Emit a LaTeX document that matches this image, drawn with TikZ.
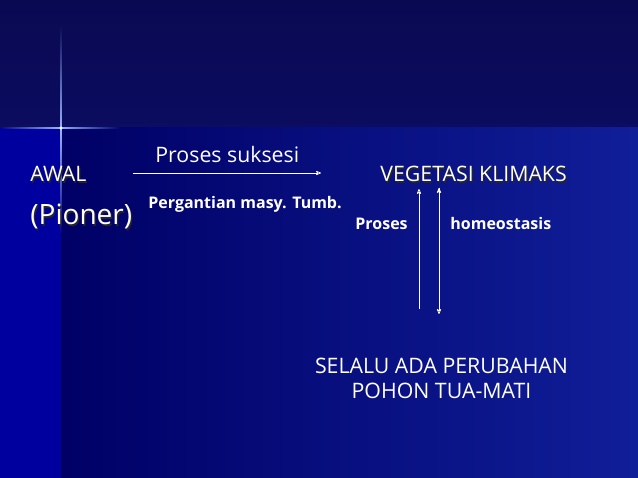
\documentclass[tikz,border=0pt]{standalone}
\usepackage{fontspec}
\setmainfont{Open Sans}
\usepackage{xcolor}
\usepackage{tikz}
\usetikzlibrary{arrows,fadings}

\definecolor{topnavy}{RGB}{9,9,82}
\definecolor{topnavylow}{RGB}{12,12,96}
\definecolor{stripblue}{RGB}{0,0,158}
\definecolor{deepnavy}{RGB}{0,0,102}
\definecolor{brightblue}{RGB}{16,30,152}
\definecolor{starglow}{RGB}{150,180,255}

\newcommand\shadowed[1]{\makebox[0pt][l]{\hspace{1.3pt}\raisebox{-1.3pt}{\color{black!85}#1}}#1}

\tikzfading[name=fade ends, top color=transparent!100, bottom color=transparent!100, middle color=transparent!0]

\begin{document}
\begin{tikzpicture}[x=1pt,y=-1pt,->,>=stealth',line width=0.8pt,
                    big text/.style={inner sep=0pt,text=white,font=\fontsize{21.3}{25}\selectfont},
                    huge text/.style={inner sep=0pt,text=white,font=\fontsize{28}{32}\selectfont},
                    bold text/.style={inner sep=0pt,text=white,font=\fontsize{16}{18}\selectfont\bfseries}]

  % background
  \useasboundingbox (0,0) rectangle (638,478);
  \shade[top color=topnavy,bottom color=topnavylow] (0,0) rectangle (638,128);
  \shade[left color=deepnavy,right color=brightblue] (61,128) rectangle (638,478);
  \fill[stripblue] (0,128) rectangle (61,478);
  \fill[starglow,path fading=fade ends] (60.2,25) rectangle (61.8,235);
  \fill[starglow,path fading=fade ends,fading angle=90] (0,127.2) rectangle (120,128.8);
  \fill[white] (61,128) circle (1.6);

  \node[big text,anchor=base west] (awal) at (30,182) {\shadowed{AWAL}};
  \node[huge text,anchor=base west] (pioner) at (30,225) {\shadowed{(Pioner)}};
  \node[big text,anchor=base west] (suksesi) at (155,163) {Proses suksesi};
  \node[bold text,anchor=base west] (pergantian) at (148,209) {Pergantian masy. Tumb.};
  \node[big text,anchor=base west] (klimaks) at (380,182) {\shadowed{VEGETASI KLIMAKS}};
  \node[bold text,anchor=base west] (proses) at (355,230) {Proses};
  \node[bold text,anchor=base west] (homeostasis) at (450,230) {homeostasis};
  \node[big text,align=center,anchor=north] (perubahan) at (441.5,358)
    {SELALU ADA PERUBAHAN\\POHON TUA-MATI};

  \coordinate (suksesi tail) at (133,173);
  \coordinate (suksesi head) at (321,173);
  \coordinate (up tail) at (419,309);
  \coordinate (up head) at (419,189);
  \coordinate (down tail) at (439,188);
  \coordinate (down head) at (439,314);

  \path[draw=white]
    (suksesi tail) edge (suksesi head)
    (up tail) edge (up head)
    (down tail) edge (down head);

\end{tikzpicture}
\end{document}
